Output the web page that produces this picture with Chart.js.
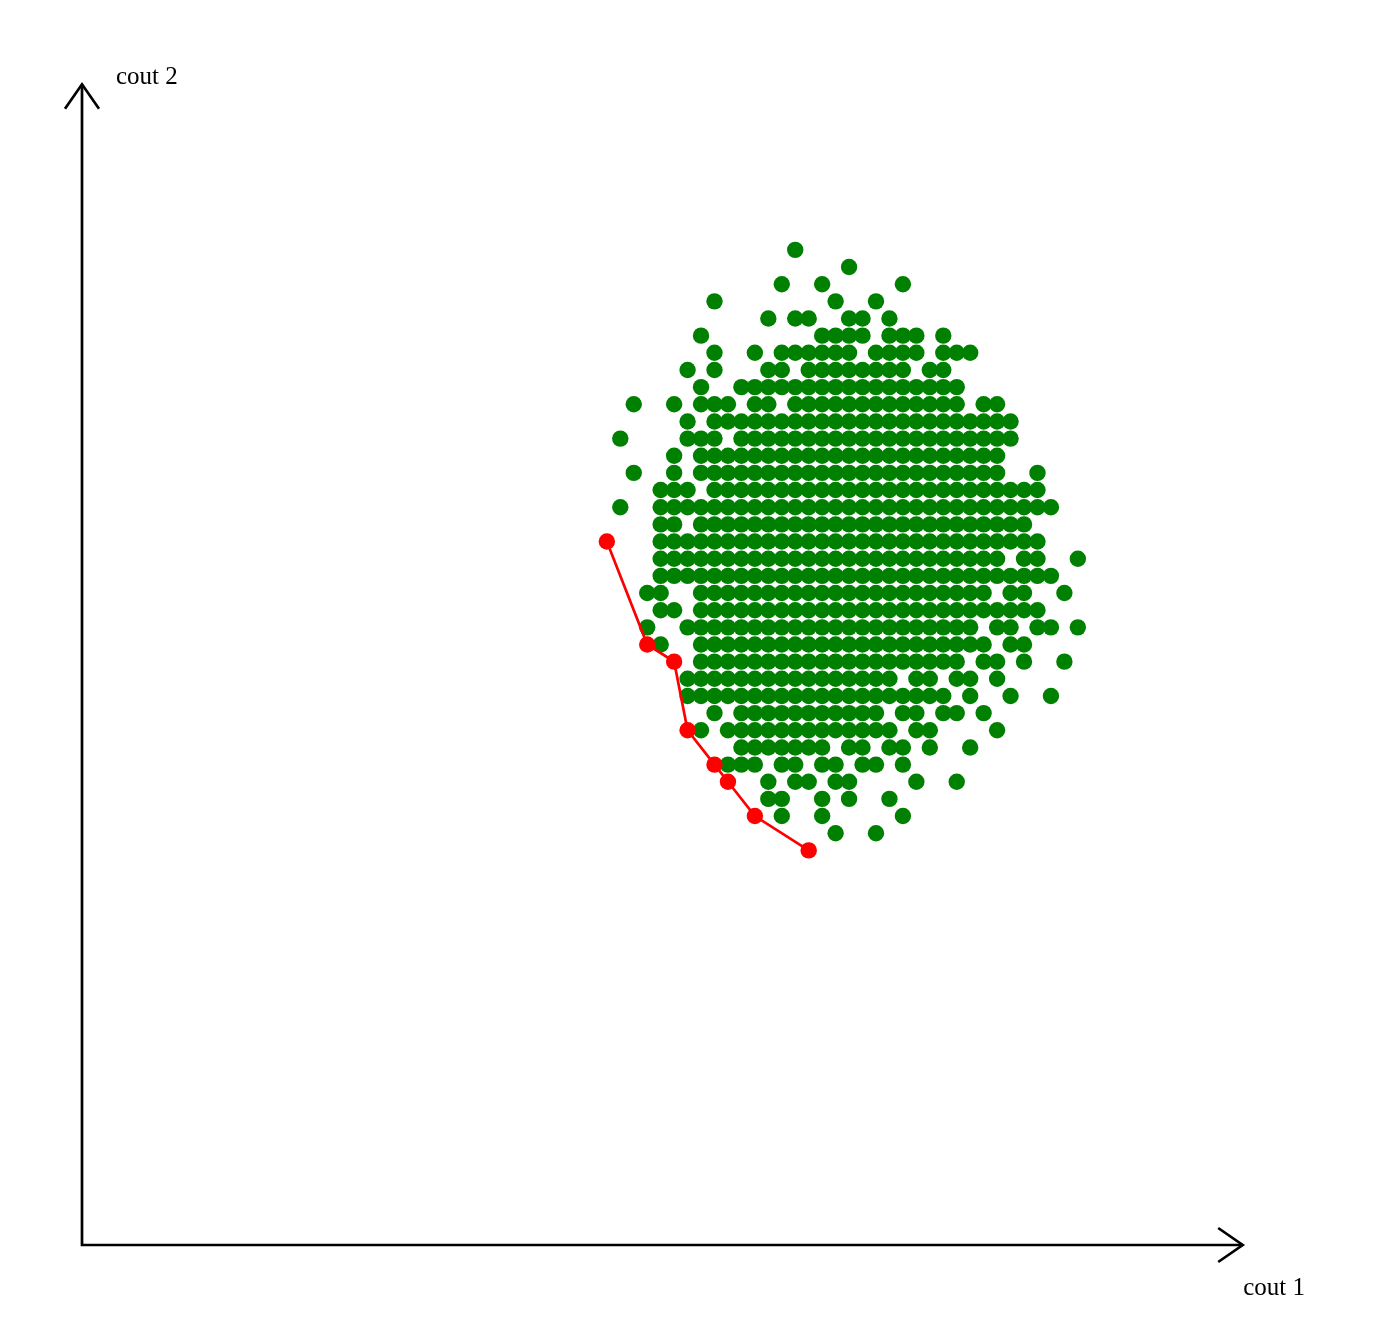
<!DOCTYPE html>
<html>
<head>
<meta charset="utf-8">
<script src="https://cdn.jsdelivr.net/npm/chart.js@4"></script>
<style>
  html, body { margin: 0; padding: 0; background: #fff; }
  #wrap { width: 1374px; height: 1320px; }
</style>
</head>
<body>
<div id="wrap"><canvas id="front" width="1374" height="1320"></canvas></div>
<script>
// ---------- Data ---------- //
// cout 2 level of each row of the population, and the cout 1 values found on it
const popCout2 = [58, 57, 56, 55, 54, 53, 52, 51, 50, 49, 48, 47, 46, 45, 44, 43, 42, 41,
  40, 39, 38, 37, 36, 35, 34, 33, 32, 31, 30, 29, 28, 27, 26, 25, 24];
const popCout1 = [
  [53],
  [57],
  [52, 55, 61],
  [47, 56, 59],
  [51, 53, 54, 57, 58, 60],
  [46, 55, 56, 57, 58, 60, 61, 62, 64],
  [47, 50, 52, 53, 54, 55, 56, 57, 59, 60, 61, 62, 64, 65, 66],
  [45, 47, 51, 52, 54, 55, 56, 57, 58, 59, 60, 61, 63, 64],
  [46, 49, 50, 51, 52, 53, 54, 55, 56, 57, 58, 59, 60, 61, 62, 63, 64, 65],
  [41, 44, 46, 47, 48, 50, 51, 53, 54, 55, 56, 57, 58, 59, 60, 61, 62, 63, 64, 65, 67, 68],
  [45, 47, 48, 49, 50, 51, 52, 53, 54, 55, 56, 57, 58, 59, 60, 61, 62, 63, 64, 65, 66, 67, 68, 69],
  [40, 45, 46, 47, 49, 50, 51, 52, 53, 54, 55, 56, 57, 58, 59, 60, 61, 62, 63, 64, 65, 66, 67, 68, 69],
  [44, 46, 47, 48, 49, 50, 51, 52, 53, 54, 55, 56, 57, 58, 59, 60, 61, 62, 63, 64, 65, 66, 67, 68],
  [41, 44, 46, 47, 48, 49, 50, 51, 52, 53, 54, 55, 56, 57, 58, 59, 60, 61, 62, 63, 64, 65, 66, 67, 68, 71],
  [43, 44, 45, 47, 48, 49, 50, 51, 52, 53, 54, 55, 56, 57, 58, 59, 60, 61, 62, 63, 64, 65, 66, 67, 68, 69, 70, 71],
  [40, 43, 44, 45, 46, 47, 48, 49, 50, 51, 52, 53, 54, 55, 56, 57, 58, 59, 60, 61, 62, 63, 64, 65, 66, 67, 68, 69, 70, 71, 72],
  [43, 44, 46, 47, 48, 49, 50, 51, 52, 53, 54, 55, 56, 57, 58, 59, 60, 61, 62, 63, 64, 65, 66, 67, 68, 69, 70],
  [43, 44, 45, 46, 47, 48, 49, 50, 51, 52, 53, 54, 55, 56, 57, 58, 59, 60, 61, 62, 63, 64, 65, 66, 67, 68, 69, 70, 71],
  [43, 44, 45, 46, 47, 48, 49, 50, 51, 52, 53, 54, 55, 56, 57, 58, 59, 60, 61, 62, 63, 64, 65, 66, 67, 68, 70, 71, 74],
  [43, 44, 45, 46, 47, 48, 49, 50, 51, 52, 53, 54, 55, 56, 57, 58, 59, 60, 61, 62, 63, 64, 65, 66, 67, 68, 69, 70, 71, 72],
  [42, 43, 46, 47, 48, 49, 50, 51, 52, 53, 54, 55, 56, 57, 58, 59, 60, 61, 62, 63, 64, 65, 66, 67, 69, 70, 73],
  [43, 44, 46, 47, 48, 49, 50, 51, 52, 53, 54, 55, 56, 57, 58, 59, 60, 61, 62, 63, 64, 65, 66, 67, 68, 69, 70, 71],
  [42, 45, 46, 47, 48, 49, 50, 51, 52, 53, 54, 55, 56, 57, 58, 59, 60, 61, 62, 63, 64, 65, 66, 68, 69, 71, 72, 74],
  [43, 46, 47, 48, 49, 50, 51, 52, 53, 54, 55, 56, 57, 58, 59, 60, 61, 62, 63, 64, 65, 66, 67, 69, 70],
  [46, 47, 48, 49, 50, 51, 52, 53, 54, 55, 56, 57, 58, 59, 60, 61, 62, 63, 64, 65, 67, 68, 70, 73],
  [45, 46, 47, 48, 49, 50, 51, 52, 53, 54, 55, 56, 57, 58, 59, 60, 62, 63, 65, 66, 68],
  [45, 46, 47, 48, 49, 50, 51, 52, 53, 54, 55, 56, 57, 58, 59, 60, 61, 62, 63, 64, 66, 69, 72],
  [47, 49, 50, 51, 52, 53, 54, 55, 56, 57, 58, 59, 61, 62, 64, 65, 67],
  [46, 48, 49, 50, 51, 52, 53, 54, 55, 56, 57, 58, 59, 60, 62, 63, 68],
  [49, 50, 51, 52, 53, 54, 55, 57, 58, 60, 61, 63, 66],
  [48, 49, 50, 52, 53, 55, 56, 58, 59, 61],
  [51, 53, 54, 56, 57, 62, 65],
  [51, 52, 55, 57, 60],
  [52, 55, 61],
  [56, 59]
];

// Pareto front (red)
const frontCout1 = [39, 42, 44, 45, 47, 48, 50, 54];
const frontCout2 = [41, 35, 34, 30, 28, 27, 25, 23];

// axis ranges and labels
const xMax = 86.25;
const yMax = 67.65;
const xLabel = 'cout 1';
const yLabel = 'cout 2';

// ---------- Build points ---------- //
const popPoints = [];
popCout2.forEach((c2, i) => {
  popCout1[i].forEach(c1 => popPoints.push({ x: c1, y: c2 }));
});
const frontPoints = frontCout1.map((c1, i) => ({ x: c1, y: frontCout2[i] }));

// Arrow axes drawn on the chart area corners
const arrowAxes = {
  id: 'arrowAxes',
  afterDraw(chart) {
    const ctx = chart.ctx;
    const xs = chart.scales.x, ys = chart.scales.y;
    const x0 = xs.getPixelForValue(0), y0 = ys.getPixelForValue(0);
    const x1 = xs.getPixelForValue(xMax), y1 = ys.getPixelForValue(yMax);
    ctx.save();
    ctx.strokeStyle = '#000';
    ctx.lineWidth = 2.7;
    ctx.lineCap = 'butt';
    ctx.beginPath();
    ctx.moveTo(x0, y1);
    ctx.lineTo(x0, y0);
    ctx.lineTo(x1, y0);
    ctx.stroke();
    // arrow heads
    ctx.beginPath();
    ctx.moveTo(x1 - 24.5, y0 - 17);
    ctx.lineTo(x1, y0);
    ctx.lineTo(x1 - 24.5, y0 + 17);
    ctx.moveTo(x0 - 17, y1 + 24.5);
    ctx.lineTo(x0, y1);
    ctx.lineTo(x0 + 17, y1 + 24.5);
    ctx.stroke();
    // labels
    ctx.fillStyle = '#000';
    ctx.font = '25px "Liberation Serif", "DejaVu Serif", serif';
    ctx.textAlign = 'left';
    ctx.textBaseline = 'alphabetic';
    ctx.fillText(yLabel, x0 + 34, y1 - 0.5);
    ctx.fillText(xLabel, x1 + 0.5, y0 + 50);
    ctx.restore();
  }
};

new Chart(document.getElementById('front'), {
  type: 'scatter',
  data: {
    datasets: [
      {
        label: 'population',
        data: popPoints,
        backgroundColor: '#008000',
        borderWidth: 0,
        pointRadius: 8.2,
        pointHoverRadius: 8.2,
        order: 2
      },
      {
        label: 'front',
        data: frontPoints,
        showLine: true,
        borderColor: '#ff0000',
        borderWidth: 2.7,
        backgroundColor: '#ff0000',
        pointBorderWidth: 0,
        pointRadius: 8.2,
        pointHoverRadius: 8.2,
        tension: 0,
        order: 1
      }
    ]
  },
  options: {
    responsive: false,
    animation: false,
    devicePixelRatio: 1,
    layout: { padding: { left: 82, right: 131.3, top: 84.3, bottom: 75 } },
    plugins: {
      legend: { display: false },
      tooltip: { enabled: false }
    },
    scales: {
      x: { type: 'linear', min: 0, max: xMax, display: false },
      y: { type: 'linear', min: 0, max: yMax, display: false }
    }
  },
  plugins: [arrowAxes]
});
</script>
</body>
</html>
